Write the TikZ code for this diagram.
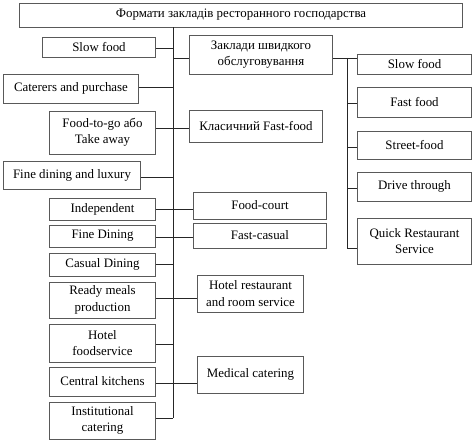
\documentclass[tikz,border=0pt]{standalone}
\usepackage{fontspec}
\setmainfont{Liberation Serif}
\begin{document}
\begin{tikzpicture}[x=1bp,y=-1bp,
	box/.style={draw=black!65,line width=0.8bp,inner sep=0pt,align=center,
		font=\fontsize{12.9bp}{16.5bp}\selectfont},
	link/.style={line width=0.9bp,black!85}]
	\useasboundingbox (0,0) rectangle (474,442);
	% верхній блок
	\node[box,minimum width=444,minimum height=24] (top) at (241,15) {Формати закладів ресторанного господарства};
	% ліва колонка
	\node[box,minimum width=114,minimum height=20] (ls1) at (99,47) {Slow food};
	\node[box,minimum width=136,minimum height=29] (ls2) at (71,88.5) {Caterers and purchase};
	\node[box,minimum width=107,minimum height=43] (ls3) at (102.5,132.5) {Food-to-go або\\Take away};
	\node[box,minimum width=138,minimum height=28] (ls4) at (72,175) {Fine dining and luxury};
	\node[box,minimum width=107,minimum height=22] (ls5) at (102.5,209) {Independent};
	\node[box,minimum width=107,minimum height=22] (ls6) at (102.5,236) {Fine Dining};
	\node[box,minimum width=107,minimum height=23] (ls7) at (102.5,264.5) {Casual Dining};
	\node[box,minimum width=107,minimum height=36] (ls8) at (102.5,300) {Ready meals\\production};
	\node[box,minimum width=107,minimum height=38] (ls9) at (102.5,343) {Hotel\\foodservice};
	\node[box,minimum width=107,minimum height=29] (ls10) at (102.5,381.5) {Central kitchens};
	\node[box,minimum width=107,minimum height=37] (ls11) at (102.5,420.5) {Institutional\\catering};
	% середня колонка
	\node[box,minimum width=144,minimum height=39] (m1) at (261,54.5) {Заклади швидкого\\обслуговування};
	\node[box,minimum width=134,minimum height=32] (m2) at (256,126) {Класичний Fast-food};
	\node[box,minimum width=134,minimum height=27] (m3) at (260,205.5) {Food-court};
	\node[box,minimum width=134,minimum height=25] (m4) at (260,235.5) {Fast-casual};
	\node[box,minimum width=107,minimum height=37] (m5) at (250.5,293.5) {Hotel restaurant\\and room service};
	\node[box,minimum width=107,minimum height=37] (m6) at (250.5,374.5) {Medical catering};
	% права колонка
	\node[box,minimum width=115,minimum height=20] (r1) at (414.5,64) {Slow food};
	\node[box,minimum width=115,minimum height=30] (r2) at (414.5,102) {Fast food};
	\node[box,minimum width=115,minimum height=28] (r3) at (414.5,145) {Street-food};
	\node[box,minimum width=115,minimum height=29] (r4) at (414.5,186.5) {Drive through};
	\node[box,minimum width=115,minimum height=46] (r5) at (414.5,241) {Quick Restaurant\\Service};
	% точки на стовбурі
	\coordinate (t1) at (173,48);
	\coordinate (t2) at (173,87);
	\coordinate (t3) at (173,128);
	\coordinate (t4) at (173,177);
	\coordinate (t5) at (173,209);
	\coordinate (t6) at (173,237);
	\coordinate (t7) at (173,264);
	\coordinate (t8) at (173,298);
	\coordinate (t9) at (173,344);
	\coordinate (t10) at (173,383);
	\coordinate (t11) at (173,418);
	\coordinate (tz) at (173,58);
	\coordinate (rb) at (347,58);
	\coordinate (re) at (347,248);
	% стовбур
	\draw[link] (top.south -| t1) -- (t11);
	\foreach \i in {1,...,11}
		\draw[link] (ls\i.east |- t\i) -- (t\i);
	\draw[link] (tz) -- (m1.west |- tz);
	\draw[link] (t3) -- (m2.west |- t3);
	\draw[link] (t5) -- (m3.west |- t5);
	\draw[link] (t6) -- (m4.west |- t6);
	\draw[link] (t8) -- (m5.west |- t8);
	\draw[link] (t10) -- (m6.west |- t10);
	% гілка закладів швидкого обслуговування
	\draw[link] (m1.east |- rb) -- (r1.west |- rb);
	\draw[link] (rb) -- (re) -- (r5.west |- re);
	\foreach \j/\y in {2/103,3/147,4/188}
		\draw[link] (347,\y) -- (r\j.west |- 0,\y);
\end{tikzpicture}
\end{document}
